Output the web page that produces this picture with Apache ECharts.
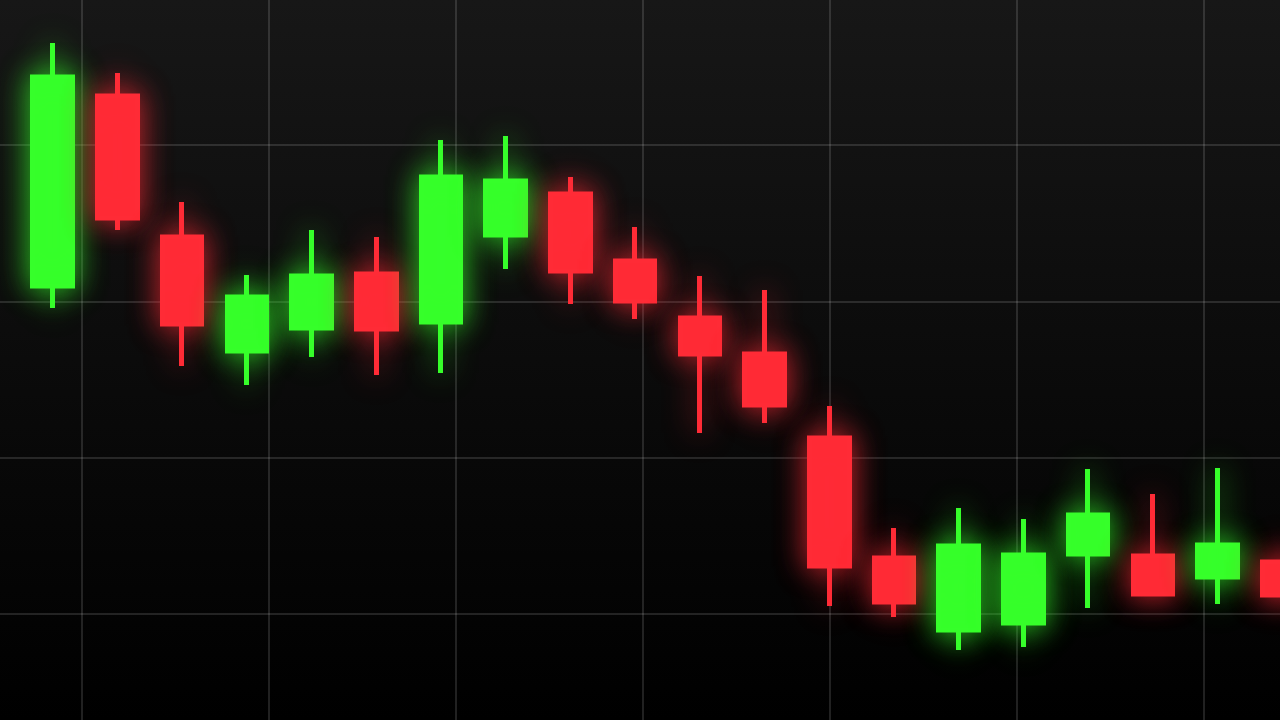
<!DOCTYPE html>
<html>
<head>
<meta charset="utf-8">
<script src="https://cdn.jsdelivr.net/npm/echarts@6/dist/echarts.min.js"></script>
<style>
html,body{margin:0;padding:0;background:#000;}
#chart{width:1280px;height:720px;}
</style>
</head>
<body>
<div id="chart"></div>
<script>
// Candle data: [open, close, low, high]
const categories = ['1','2','3','4','5','6','7','8','9','10','11','12','13','14','15','16','17','18','19','20'];
const opens  = [120.99, 133.15, 124.12, 116.82, 118.30, 121.75, 118.68, 124.25, 126.88, 122.59, 118.94, 116.63, 111.25, 103.57,  98.96,  99.41, 103.83, 103.70, 102.36, 103.32];
const closes = [134.37, 125.34, 118.55, 120.28, 121.63, 118.23, 127.96, 127.71, 121.95, 120.03, 116.63, 113.37, 103.06, 100.76, 104.34, 103.76, 106.33, 101.27, 104.40, 101.20];
const lows   = [119.58, 124.57, 115.86, 114.65, 116.44, 115.29, 115.42, 122.07, 119.83, 118.87, 111.57, 112.22, 100.50,  99.80,  97.68,  97.87, 100.37, 101.27, 100.63, 100.60];
const highs  = [136.54, 134.62, 126.36, 121.69, 124.57, 124.12, 130.33, 130.59, 127.96, 124.76, 121.63, 120.73, 113.30, 105.49, 106.77, 106.07, 109.27, 107.67, 109.33, 104.50];
// Grid line ticks (price axis) and time grid
const priceMin = 90, priceMax = 140, priceStep = 10;
const timeMin = 0, timeMax = 8, timeStep = 1;

const UP = '#36ff2a', DOWN = '#ff2b36';
const data = categories.map((c, i) => {
  const up = closes[i] >= opens[i];
  return {
    value: [opens[i], closes[i], lows[i], highs[i]],
    itemStyle: {
      shadowColor: up ? 'rgba(54,255,42,0.8)' : 'rgba(255,43,54,0.8)',
      shadowBlur: 30
    }
  };
});

const chart = echarts.init(document.getElementById('chart'));
chart.setOption({
  animation: false,
  backgroundColor: {
    type: 'linear', x: 0, y: 0, x2: 0, y2: 1,
    colorStops: [
      {offset: 0, color: '#171717'},
      {offset: 0.5, color: '#0b0b0b'},
      {offset: 1, color: '#000000'}
    ]
  },
  grid: [
    // background grid lines
    {left: -105, width: 1496, top: -11, height: 781, containLabel: false, outerBoundsMode: 'none'},
    // candles
    {left: 20.3, width: 1294.4, top: -11, height: 781, containLabel: false, outerBoundsMode: 'none'}
  ],
  xAxis: [
    {
      type: 'value', gridIndex: 0, min: timeMin, max: timeMax, interval: timeStep,
      axisLine: {show: false}, axisTick: {show: false}, axisLabel: {show: false},
      splitLine: {show: true, lineStyle: {color: 'rgba(255,255,255,0.13)', width: 2}}
    },
    {
      type: 'category', gridIndex: 1, data: categories, boundaryGap: true,
      axisLine: {show: false}, axisTick: {show: false}, axisLabel: {show: false},
      splitLine: {show: false}
    }
  ],
  yAxis: [
    {
      type: 'value', gridIndex: 0, min: priceMin, max: priceMax, interval: priceStep,
      axisLine: {show: false}, axisTick: {show: false}, axisLabel: {show: false},
      splitLine: {show: true, lineStyle: {color: 'rgba(255,255,255,0.13)', width: 2}}
    },
    {
      type: 'value', gridIndex: 1, min: priceMin, max: priceMax, interval: priceStep,
      axisLine: {show: false}, axisTick: {show: false}, axisLabel: {show: false},
      splitLine: {show: false}
    }
  ],
  series: [{
    type: 'candlestick',
    xAxisIndex: 1,
    yAxisIndex: 1,
    barWidth: 40,
    data: data,
    itemStyle: {
      color: UP, color0: DOWN,
      borderColor: UP, borderColor0: DOWN,
      borderWidth: 5
    }
  }]
});
</script>
</body>
</html>
